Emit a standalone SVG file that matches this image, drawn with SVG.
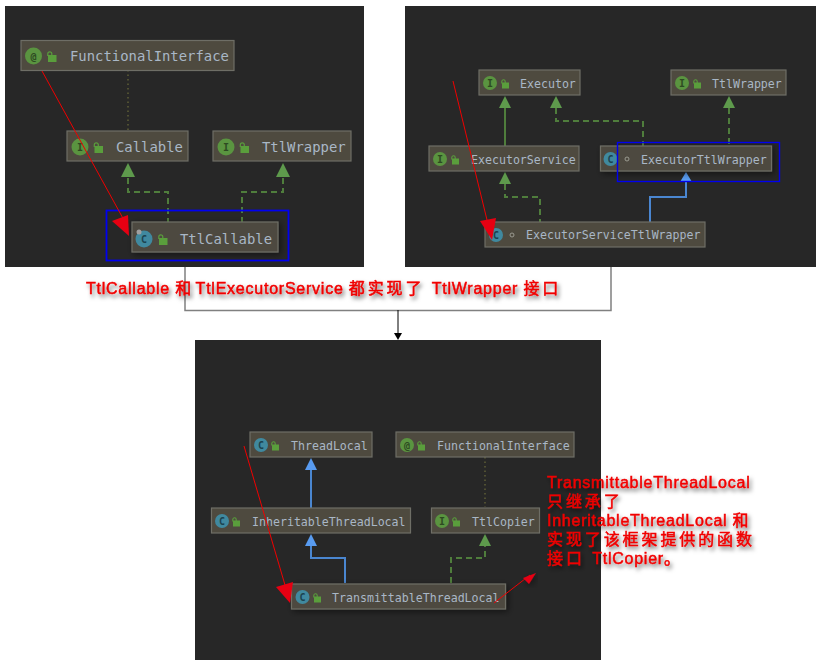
<svg xmlns="http://www.w3.org/2000/svg" width="818" height="663" viewBox="0 0 818 663">
<style>
.panel{fill:#272727}
.box{fill:#4e4a3f;stroke:#6e6e66;stroke-width:1.2}
.t1{font:13.9px "DejaVu Sans Mono",monospace;fill:#a9b7c6}
.t2{font:11.6px "DejaVu Sans Mono",monospace;fill:#a9b7c6}
.ic{fill:#5a9440}
.cc{fill:#40899f}
.il{font:bold 10px "DejaVu Sans Mono",monospace;fill:#2d4a22;text-anchor:middle}
.cl{font:bold 10px "DejaVu Sans Mono",monospace;fill:#1c4350;text-anchor:middle}
.dot{fill:none;stroke:#9a9a90;stroke-width:1}
.g{fill:none;stroke:#4f7d3c;stroke-width:2}
.gd{fill:none;stroke:#4f7d3c;stroke-width:2;stroke-dasharray:6 4}
.b{fill:none;stroke:#4a86d0;stroke-width:2}
.ga{fill:#5e9a4c}
.ba{fill:#589bf0}
.dt{fill:none;stroke:#6b6b3a;stroke-width:1.2;stroke-dasharray:1.5 3}
.blue{fill:none;stroke:#0000f0}
.red{fill:none;stroke:#f00000;stroke-width:1}
.rh{fill:#e60012}
.lab{font:16px "Liberation Sans","Noto Sans CJK SC",sans-serif;fill:#f00000;stroke:#f00000;stroke-width:.5}
.lat{letter-spacing:.76px}
.cjk{letter-spacing:2.9px}
</style>
<defs>
<filter id="sh" x="-5%" y="-30%" width="110%" height="170%"><feDropShadow dx="2" dy="3" stdDeviation="2" flood-color="#000" flood-opacity="0.55"/></filter>
<filter id="bs" x="-10%" y="-20%" width="120%" height="150%"><feDropShadow dx="2" dy="2" stdDeviation="3" flood-color="#000" flood-opacity="0.5"/></filter>
<g id="lockL"><rect x="1" y="3" width="8.500" height="7" fill="#5a9e3c"/><path d="M0.800 4V1.800a2 2 0 0 1 4 0V3.500" fill="none" stroke="#5a9e3c" stroke-width="1.200"/></g>
<g id="lockS"><rect x="1" y="2.500" width="7" height="6" fill="#5a9e3c"/><path d="M0.800 3.500V1.500a1.700 1.700 0 0 1 3.400 0V3" fill="none" stroke="#5a9e3c" stroke-width="1.100"/></g>
</defs>
<rect width="818" height="663" fill="#fff"/>
<g id="panels">
<rect class="panel" x="5" y="6" width="359" height="261"/>
<rect class="panel" x="405" y="6" width="411" height="261"/>
<rect class="panel" x="195" y="340" width="406" height="320"/>
</g>
<g id="connectors">
<path d="M185 267V310.500H611V267" fill="none" stroke="#808080" stroke-width="1.500"/>
<path d="M398 310V334" fill="none" stroke="#000" stroke-width="1"/>
<path d="M394 333H402L398 340Z" fill="#000"/>
<path class="dt" d="M128 70V130"/>
<path class="gd" d="M128 178V192H168V222"/>
<path class="ga" d="M121 177L128 163L135 177Z"/>
<path class="gd" d="M283 178V192H242V222"/>
<path class="ga" d="M276 177L283 163L290 177Z"/>
<path class="g" d="M505 108V146"/>
<path class="ga" d="M499 108L505 96L511 108Z"/>
<path class="gd" d="M556 108V121H643V146"/>
<path class="ga" d="M550 108L556 96L562 108Z"/>
<path class="gd" d="M729 108V146"/>
<path class="ga" d="M723 108L729 96L735 108Z"/>
<path class="gd" d="M505 184V197H540V222"/>
<path class="ga" d="M499 184L505 172L511 184Z"/>
<path class="b" d="M650 222V197H686V182"/>
<path class="ba" d="M680 182L686 172L692 182Z"/>
<path class="b" d="M311 508V470"/>
<path class="ba" d="M305 470L311 458L317 470Z"/>
<path class="b" d="M345 583V558H311V546"/>
<path class="ba" d="M305 546L311 534L317 546Z"/>
<path class="dt" d="M485 457V507"/>
<path class="gd" d="M451 583V558H485V546"/>
<path class="ga" d="M479 546L485 534L491 546Z"/>
</g>
<g id="FunctionalInterface1"><rect class="box" x="21" y="40.500" width="213" height="30"/><circle class="ic" cx="33.500" cy="56" r="8.500"/><text class="il" x="33.500" y="59.500">@</text><use href="#lockL" x="47" y="52"/><text class="t1" x="70" y="61">FunctionalInterface</text></g>
<g id="Callable"><rect class="box" x="67" y="131" width="121" height="30"/><circle class="ic" cx="80" cy="147" r="8.500"/><text class="il" x="80" y="150.500">I</text><use href="#lockL" x="93.500" y="143"/><text class="t1" x="116" y="152">Callable</text></g>
<g id="TtlWrapper1"><rect class="box" x="213" y="131" width="138" height="30"/><circle class="ic" cx="226" cy="147" r="8.500"/><text class="il" x="226" y="150.500">I</text><use href="#lockL" x="239.500" y="143"/><text class="t1" x="262" y="152">TtlWrapper</text></g>
<g id="TtlCallable"><rect class="blue" stroke-width="1.800" x="106.500" y="210.500" width="182" height="50"/><rect class="box" x="132" y="222" width="146" height="30" filter="url(#bs)"/><circle class="cc" cx="144" cy="239" r="8.500"/><text class="cl" x="144" y="242.500">C</text><circle cx="139" cy="232" r="2.500" fill="#a0a0a0"/><use href="#lockL" x="158" y="235"/><text class="t1" x="180" y="244">TtlCallable</text></g>
<g id="Executor"><rect class="box" x="479" y="70" width="101" height="25"/><circle class="ic" cx="490" cy="83" r="7"/><text class="il" x="490" y="86.500">I</text><use href="#lockS" x="501" y="80"/><text class="t2" x="520" y="88">Executor</text></g>
<g id="TtlWrapper2"><rect class="box" x="671" y="70" width="115" height="25"/><circle class="ic" cx="682" cy="83" r="7"/><text class="il" x="682" y="86.500">I</text><use href="#lockS" x="693" y="80"/><text class="t2" x="712" y="88">TtlWrapper</text></g>
<g id="ExecutorService"><rect class="box" x="429" y="146" width="150" height="25"/><circle class="ic" cx="440" cy="159" r="7"/><text class="il" x="440" y="162.500">I</text><use href="#lockS" x="451" y="156"/><text class="t2" x="471" y="164">ExecutorService</text></g>
<g id="ExecutorTtlWrapper"><rect class="box" x="600.500" y="146" width="171" height="25" filter="url(#bs)"/><circle class="cc" cx="610.500" cy="159" r="7"/><text class="cl" x="610.500" y="162.500">C</text><circle class="dot" cx="627" cy="159" r="2"/><text class="t2" x="641" y="164">ExecutorTtlWrapper</text><rect class="blue" stroke-width="1.400" x="617.500" y="142.500" width="162" height="39"/></g>
<g id="ExecutorServiceTtlWrapper"><rect class="box" x="485" y="222" width="220" height="25"/><circle class="cc" cx="496" cy="235" r="7"/><text class="cl" x="496" y="238.500">C</text><circle class="dot" cx="512" cy="235" r="2"/><text class="t2" x="526" y="239">ExecutorServiceTtlWrapper</text></g>
<g id="ThreadLocal"><rect class="box" x="250" y="432" width="122" height="25"/><circle class="cc" cx="261" cy="445" r="7"/><text class="cl" x="261" y="448.500">C</text><use href="#lockS" x="271" y="442"/><text class="t2" x="291" y="450">ThreadLocal</text></g>
<g id="FunctionalInterface2"><rect class="box" x="396" y="432" width="178" height="25"/><circle class="ic" cx="407" cy="445" r="7"/><text class="il" x="407" y="448.500">@</text><use href="#lockS" x="417" y="442"/><text class="t2" x="437" y="450">FunctionalInterface</text></g>
<g id="InheritableThreadLocal"><rect class="box" x="211.500" y="508" width="199" height="25"/><circle class="cc" cx="222" cy="521" r="7"/><text class="cl" x="222" y="524.500">C</text><use href="#lockS" x="232" y="518"/><text class="t2" x="252" y="526">InheritableThreadLocal</text></g>
<g id="TtlCopier"><rect class="box" x="431.500" y="508" width="108" height="25"/><circle class="ic" cx="442" cy="521" r="7"/><text class="il" x="442" y="524.500">I</text><use href="#lockS" x="452" y="518"/><text class="t2" x="472" y="526">TtlCopier</text></g>
<g id="TransmittableThreadLocal"><rect class="box" x="291.500" y="584" width="214" height="25" filter="url(#bs)"/><circle class="cc" cx="302.500" cy="597" r="7"/><text class="cl" x="302.500" y="600.500">C</text><use href="#lockS" x="313" y="594"/><text class="t2" x="332" y="602">TransmittableThreadLocal</text></g>
<g id="annotations">
<path class="red" d="M42 71L125 222"/><path class="rh" d="M112 221L128 215L129 236Z"/>
<path class="red" d="M453 81L488 224"/><path class="rh" d="M480 221L496 218L492 240Z"/>
<path class="red" d="M244 446L285 585"/><path class="rh" d="M276 587L293 582L290 603Z"/>
<path class="red" d="M494 603L530 575"/><path class="rh" d="M523 578L536 573L529 584Z" filter="url(#bs)"/>
<text class="lab" x="86" y="294" filter="url(#sh)"><tspan class="lat">TtlCallable </tspan><tspan>和 </tspan><tspan class="lat">TtlExecutorService </tspan><tspan class="cjk">都实现了 </tspan><tspan class="lat">TtlWrapper </tspan><tspan class="cjk">接口</tspan></text>
<g filter="url(#sh)">
<text class="lab lat" x="547" y="488">TransmittableThreadLocal</text>
<text class="lab cjk" x="547" y="507">只继承了</text>
<text class="lab" x="547" y="526"><tspan class="lat">InheritableThreadLocal </tspan>和</text>
<text class="lab cjk" x="547" y="545">实现了该框架提供的函数</text>
<text class="lab" x="547" y="564"><tspan class="cjk">接口 </tspan><tspan class="lat">TtlCopier</tspan>。</text>
</g>
</g>
</svg>
